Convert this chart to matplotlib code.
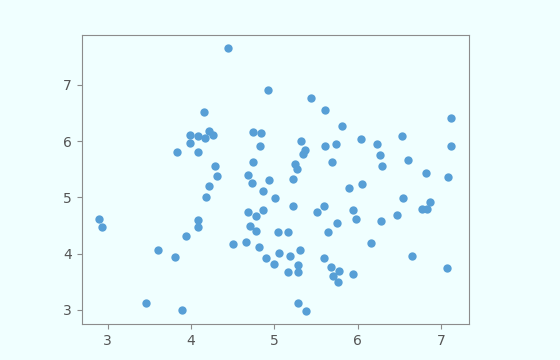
import matplotlib
matplotlib.use("Agg")
import matplotlib.pyplot as plt
import numpy as np

# values
x_vals = [4.44, 4.93, 4.16, 3.99, 4.09, 4.22, 4.17, 4.27, 3.99, 3.83,
          4.09, 4.75, 4.84, 4.83, 4.74, 4.29, 4.31, 4.68, 4.73, 4.94,
          5.44, 5.61, 5.81, 5.32, 5.37, 5.34, 5.61, 5.74, 6.04, 6.23,
          6.27, 6.29, 6.53, 6.60, 7.12, 7.12, 6.82, 7.08, 5.69, 5.25,
          5.27, 5.23, 2.90, 2.93, 3.46, 3.89, 3.60, 3.81, 3.94, 4.09,
          4.09, 4.18, 4.22, 4.87, 5.01, 4.69, 4.87, 4.78, 4.71, 4.78,
          5.04, 4.50, 4.66, 4.82, 4.90, 5.00, 5.06, 5.23, 5.17, 5.19,
          5.31, 5.29, 5.29, 5.16, 5.29, 5.38, 5.51, 5.60, 5.65, 5.75,
          5.60, 5.68, 5.78, 5.70, 5.76, 5.94, 5.90, 6.05, 5.94, 5.98,
          6.16, 6.28, 6.47, 6.54, 6.65, 6.77, 6.83, 6.87, 7.07]
y_vals = [7.65, 6.91, 6.52, 6.10, 6.09, 6.18, 6.05, 6.10, 5.96, 5.80,
          5.80, 6.17, 6.14, 5.91, 5.63, 5.56, 5.38, 5.39, 5.25, 5.30,
          6.76, 6.56, 6.26, 6.01, 5.85, 5.77, 5.92, 5.94, 6.04, 5.95,
          5.76, 5.55, 6.09, 5.66, 6.41, 5.92, 5.44, 5.37, 5.63, 5.59,
          5.51, 5.33, 4.62, 4.47, 3.12, 2.99, 4.06, 3.94, 4.32, 4.60,
          4.47, 5.01, 5.21, 5.12, 4.99, 4.74, 4.78, 4.67, 4.50, 4.41,
          4.39, 4.17, 4.21, 4.11, 3.92, 3.82, 4.01, 4.85, 4.38, 3.95,
          4.06, 3.79, 3.68, 3.67, 3.12, 2.98, 4.74, 4.85, 4.39, 4.54,
          3.93, 3.77, 3.69, 3.60, 3.49, 3.64, 5.17, 5.24, 4.77, 4.62,
          4.19, 4.58, 4.68, 4.98, 3.96, 4.80, 4.79, 4.92, 3.75]
x_ticks = [3, 4, 5, 6, 7]
y_ticks = [3, 4, 5, 6, 7]

bg = '#f0ffff'
fig = plt.figure(figsize=(5.6, 3.6), dpi=100, facecolor=bg)
ax = fig.add_axes([0.146, 0.1, 0.692, 0.802], facecolor=bg)

ax.scatter(x_vals, y_vals, s=36, color='#579fd6', linewidths=0)

ax.set_xlim(2.69, 7.34)
ax.set_ylim(2.75, 7.88)
ax.set_xticks(x_ticks)
ax.set_yticks(y_ticks)

for sp in ax.spines.values():
    sp.set_color('#8c8c8c')
ax.tick_params(colors='#555555', labelsize=10)
ax.tick_params(axis='both', color='#8c8c8c')

fig.savefig('out.png', dpi=100, facecolor=bg)
